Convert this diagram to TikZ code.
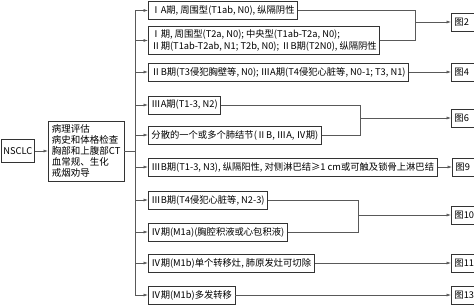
\documentclass[tikz,border=0pt]{standalone}
\usepackage{fontspec}
\setmainfont{Noto Sans CJK SC}
\usetikzlibrary{arrows.meta}
\tikzset{
  stage/.style={draw=black!80, line width=0.9pt, anchor=west, inner sep=3pt,
    minimum height=18pt, align=left, font=\fontsize{9.3}{11.5}\selectfont},
  figbox/.style={stage, text width=24pt},
  link/.style={draw=black!65, line width=0.6pt},
  arr/.style={link, -{Latex[length=4.5pt,width=3pt]}},
}
\begin{document}
\begin{tikzpicture}[x=1pt,y=-1pt]
  \useasboundingbox (0,0) rectangle (474,305);
  % start and work-up
  \node[stage, minimum height=23pt, inner sep=2.5pt] (nsclc) at (0.5,151) {NSCLC};
  \node[stage, inner sep=3.5pt, minimum height=60pt, font=\fontsize{9.5}{11}\selectfont]
    (eval) at (48,151) {病理评估\\病史和体格检查\\胸部和上腹部CT\\血常规、生化\\戒烟劝导};
  % stage boxes
  \node[stage] (s1) at (148,10.5) {ⅠA期, 周围型(T1ab, N0), 纵隔阴性};
  \node[stage, minimum height=25pt] (s2) at (148,40.5)
    {Ⅰ期, 周围型(T2a, N0); 中央型(T1ab-T2a, N0);\\Ⅱ期(T1ab-T2ab, N1; T2b, N0); ⅡB期(T2N0), 纵隔阴性};
  \node[stage] (s3) at (148,72) {ⅡB期(T3侵犯胸壁等, N0); ⅢA期(T4侵犯心脏等, N0-1; T3, N1)};
  \node[stage] (s4) at (148,105) {ⅢA期(T1-3, N2)};
  \node[stage] (s5) at (148,135) {分散的一个或多个肺结节(ⅡB, ⅢA, Ⅳ期)};
  \node[stage] (s6) at (148,167) {ⅢB期(T1-3, N3), 纵隔阳性, 对侧淋巴结≥1 cm或可触及锁骨上淋巴结};
  \node[stage] (s7) at (148,200) {ⅢB期(T4侵犯心脏等, N2-3)};
  \node[stage] (s8) at (148,232) {Ⅳ期(M1a)(胸腔积液或心包积液)};
  \node[stage] (s9) at (148,263) {Ⅳ期(M1b)单个转移灶, 肺原发灶可切除};
  \node[stage] (s10) at (148,295) {Ⅳ期(M1b)多发转移};
  % figure boxes
  \node[figbox] (f2) at (451,22) {图2};
  \node[figbox] (f4) at (451,72) {图4};
  \node[figbox] (f6) at (451,118) {图6};
  \node[figbox] (f9) at (452,167) {图9};
  \node[figbox] (f10) at (451,215) {图10};
  \node[figbox] (f11) at (451,263) {图11};
  \node[figbox] (f13) at (451,295) {图13};
  % joins of paired boxes
  \coordinate (j1) at (415,0);
  \coordinate (j2) at (360,0);
  \coordinate (j3) at (358,0);
  % left part
  \draw[arr] (nsclc) -- (eval);
  \draw[link] (eval.east) -- (135,151) coordinate (hub);
  \draw[link] (hub |- s1) -- (hub |- s10);
  \foreach \s in {s1,s2,s3,s4,s5,s6,s7,s8,s9,s10}
    \draw[arr] (hub |- \s) -- (\s);
  % right part
  \draw[link] (s1.east) -- (s1.east -| j1) -- (s2.east -| j1) -- (s2.east);
  \draw[arr] (j1 |- f2) -- (f2);
  \draw[arr] (s3) -- (f4);
  \draw[link] (s4.east) -- (s4.east -| j2) -- (s5.east -| j2) -- (s5.east);
  \draw[arr] (j2 |- f6) -- (f6);
  \draw[arr] (s6) -- (f9);
  \draw[link] (s7.east) -- (s7.east -| j3) -- (s8.east -| j3) -- (s8.east);
  \draw[arr] (j3 |- f10) -- (f10);
  \draw[arr] (s9) -- (f11);
  \draw[arr] (s10) -- (f13);
\end{tikzpicture}
\end{document}
